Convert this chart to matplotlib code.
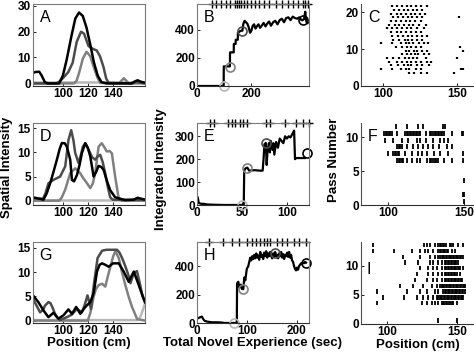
import numpy as np
import matplotlib
matplotlib.use('Agg')
import matplotlib.pyplot as plt

#%% colours used for the four passes (light -> black)
col_light = '#b8b8b8'
col_mid = '#808080'
col_dark = '#4c4c4c'
col_black = '#000000'

#%% Spatial intensity curves (panel A)
a_light_x = [76, 166]
a_light_y = [0.4, 0.4]
a_mid_x = [76, 109, 111, 113, 116, 119, 122, 125, 128, 130, 145, 147, 149, 151, 153, 166]
a_mid_y = [0, 0, 1.0, 4.0, 9.5, 12.2, 10.5, 6.0, 2.0, 0.2, 0, 1.0, 2.0, 1.0, 0, 0]
a_dark_x = [76, 95, 98, 101.7, 104.4, 107.9, 111.1, 114.6, 117, 120.6, 124.6, 127.2, 129.9, 132.6, 134.8, 136.7, 156, 159, 162, 166]
a_dark_y = [0, 0, 1.0, 2.9, 4.4, 8.0, 16.0, 19.9, 19.2, 14.4, 13.2, 12.7, 10.4, 6.4, 1.9, 0.2, 0, 0.6, 0.3, 0]
a_black_x = [76, 78, 81, 83, 85.5, 88, 97, 100, 103, 107, 110, 113, 116, 119, 122, 125, 128, 131, 135, 155, 158, 160, 163, 166]
a_black_y = [4.0, 4.4, 4.5, 3.0, 0.5, 0, 0, 3.0, 9.0, 18.5, 25.0, 27.3, 26.0, 21.5, 15.0, 8.0, 3.0, 0.5, 0, 0, 0.8, 1.2, 0.6, 0.3]

#%% panel D
d_light_x = [76, 166]
d_light_y = [0.1, 0.1]
d_mid_x = [76, 97, 99, 101.9, 105.9, 109.9, 113.9, 116.6, 119.4, 122, 124, 126, 128.7, 131.3, 133.5, 135.3, 137.5, 139.4, 142, 144.7, 147, 166]
d_mid_y = [0, 0, 0.6, 2.3, 5.7, 6.7, 5.7, 4.6, 3.6, 2.6, 3.5, 5.7, 11.2, 11.9, 11.0, 10.2, 10.3, 9.8, 5.0, 0.7, 0, 0]
d_dark_x = [76, 84, 86, 88.4, 92.4, 97.8, 101.9, 104.5, 106.7, 108.5, 109.9, 112.6, 114.5, 116.1, 118, 120.6, 123.5, 126, 128, 130, 132, 134, 136, 138, 140, 166]
d_dark_y = [0.5, 0.4, 1.5, 3.6, 4.3, 5.0, 7.1, 12.6, 14.6, 12.5, 9.9, 7.8, 9.5, 11.2, 11.9, 10.6, 9.0, 8.5, 9.2, 9.5, 8.0, 5.7, 3.0, 0.7, 0.2, 0.2]
d_black_x = [76, 84.4, 87, 89.8, 92.5, 95.2, 97.5, 99.2, 101.5, 103.2, 105.9, 107.3, 109, 111.3, 113.5, 115.3, 118, 120, 122, 124.7, 126.8, 128.7, 130.8, 132.7, 135.5, 138, 142, 150, 157, 160, 163, 166]
d_black_y = [0.7, 0.2, 1.5, 3.6, 6.0, 8.5, 10.8, 11.95, 11.9, 11.2, 8.5, 4.3, 4.0, 5.3, 7.5, 9.9, 11.9, 11.0, 9.2, 5.0, 6.0, 7.2, 7.0, 6.4, 4.0, 2.2, 0.7, 0.1, 0.2, 0.6, 0.4, 0.2]

#%% panel G
g_light_x = [76, 160, 162, 164, 166]
g_light_y = [0.1, 0.1, 0.6, 2.0, 3.5]
g_mid_x = [76, 120, 122, 124.7, 126.5, 128.7, 131.5, 134.1, 136, 138.2, 140.5, 142.2, 144.9, 147.5, 150.2, 153, 155.6, 159.7, 166]
g_mid_y = [0, 0, 1.5, 4.9, 6.5, 7.3, 7.6, 7.0, 9.0, 11.1, 13.3, 14.3, 12.9, 10.0, 7.3, 4.8, 2.8, 0.3, 0]
g_dark_x = [76, 78, 81.7, 84, 85.7, 88.4, 90, 91.5, 93.5, 95.2, 97.8, 103.2, 107, 111.3, 115.3, 117.5, 119.8, 122.6, 125.2, 127.9, 131.5, 135, 138.2, 141, 143.5, 145.5, 147.6, 150.2, 152.5, 154.3, 157, 159.5, 162, 164, 166]
g_dark_y = [4.5, 3.5, 1.7, 2.2, 3.1, 3.8, 3.6, 2.8, 1.5, 0.7, 0.1, 0.7, 1.2, 2.4, 1.7, 3.2, 5.2, 2.4, 8.0, 12.9, 14.4, 14.6, 14.6, 14.6, 14.6, 14.0, 12.9, 11.2, 9.5, 7.7, 9.8, 10.2, 7.5, 5.0, 3.8]
g_black_x = [76, 80.3, 84.4, 88.4, 92.4, 96.5, 100.5, 104.5, 107.3, 110.7, 114, 118, 122, 124.7, 127.4, 129.5, 131.5, 134.1, 136.8, 140.3, 144.9, 148.9, 152.9, 157, 161, 163.5, 166]
g_black_y = [5.2, 3.8, 2.1, 0.7, 1.6, 0.4, 1.1, 2.3, 1.4, 2.8, 1.4, 2.8, 3.8, 5.6, 10.1, 11.5, 11.8, 11.5, 11.1, 11.8, 11.8, 10.1, 8.0, 10.1, 7.3, 5.5, 3.8]

#%% integrated intensity vs total novel experience (panels B, E, H)
b_t = [0, 98, 98.5, 121, 121.5, 135, 135.5, 142, 142.5, 150, 150.5, 160, 167, 170, 175, 180, 185, 190, 195, 200, 205, 210, 215, 220, 226, 232, 238, 245, 252, 258, 265, 272, 280, 288, 296, 304, 312, 320, 328, 336, 344, 352, 360, 368, 376, 384, 389, 394, 398, 401, 403, 407]
b_y = [0, 0, 140, 140, 240, 240, 300, 300, 330, 330, 380, 393, 395, 440, 465, 455, 445, 420, 380, 395, 430, 440, 410, 425, 440, 415, 430, 450, 425, 445, 460, 430, 455, 465, 440, 470, 480, 455, 485, 490, 470, 495, 485, 480, 490, 470, 470, 480, 530, 470, 455, 450]
b_circ_t = [98, 123, 167, 389]
b_circ_y = [0, 138, 393, 471]
b_pass_t = [56, 71, 89, 107, 123, 138, 146, 154, 163, 173, 185, 197, 213, 228, 247, 265, 290, 312, 333, 352, 370, 389, 397, 407]

e_t = [0, 1, 2, 5, 8, 10, 12, 20, 30, 40, 47, 52, 52.5, 54, 56, 58, 64, 70, 73, 74, 75, 76.5, 77.5, 78.5, 80, 81, 82, 84, 85, 86, 88, 90, 92, 94, 96, 98, 100, 102, 104, 106, 108, 109, 110, 112, 116, 120]
e_y = [40, 30, 8, 5, 5, 3, 2, 1, 0, 0, 0, 0, 150, 160, 163, 150, 152, 150, 150, 200, 265, 271, 175, 240, 270, 230, 280, 240, 270, 220, 275, 250, 290, 280, 270, 300, 290, 300, 295, 310, 325, 200, 205, 205, 205, 205]
e_circ_t = [50.3, 56, 76.5, 122]
e_circ_y = [0, 163, 271, 225]
e_pass_t = [14.7, 19.1, 34.9, 38.6, 42.3, 47.8, 51.5, 55.9, 76.5, 81.7, 97.5, 110, 118.4, 125]

h_t = [0, 3, 6, 10, 12, 14, 16, 20, 30, 40, 50, 55, 60, 70, 75, 78, 80, 80.5, 83, 85, 88, 90, 93, 95, 97, 100, 103,
       105, 107, 109, 111, 113, 115, 117, 119, 121, 123, 125, 127, 129, 131, 133, 135, 137, 139, 141, 143, 145, 147,
       149, 151, 153, 155, 157, 159, 161, 163, 165, 167, 169, 171, 173, 175, 177, 179, 181, 183, 185, 187, 189, 191,
       193, 195, 197, 199, 201, 203, 205, 207, 209, 211, 213, 215, 217, 219]
h_y = [30, 35, 40, 45, 30, 20, 15, 10, 5, 5, 3, 0, 0, 0, 0, 0, 5, 280, 290, 250, 270, 240, 238, 320, 300, 380, 400,
       430, 460, 440, 470, 450, 480, 455, 490, 460, 475, 445, 500, 465, 480, 450, 495, 470, 505, 460, 490, 470, 500,
       475, 455, 490, 465, 500, 470, 480, 455, 490, 470, 500, 460, 485, 450, 480, 470, 495, 465, 500, 460, 480, 440,
       430, 400, 380, 370, 390, 375, 400, 410, 420, 415, 425, 420, 430, 425]
h_circ_t = [75, 93, 157, 219]
h_circ_y = [0, 238, 495, 422]
h_pass_t = [25, 53, 71, 85, 100, 110, 119, 127, 135, 141, 147, 161, 170, 180, 195, 205, 219]

#%% rasters: spike positions (cm) for each pass number
c_passes = [21, 20, 19, 18, 17, 16, 15, 14, 13, 12, 11, 10, 9, 8, 7, 6, 5, 4, 3]
c_spikes = [
    [106.3, 109.2, 113.0, 115.9, 118.6, 122.0, 125.3, 129.4],
    [107.4, 110.8, 114.1, 116.8, 120.5, 123.1, 126.5],
    [105.6, 109.2, 111.9, 115.2, 118.6, 121.6, 124.9, 128.0],
    [107.0, 110.1, 113.6, 116.8, 119.8, 123.1, 126.5, 151.2],
    [105.1, 108.6, 111.9, 115.2, 118.2, 121.3, 125.3],
    [104.0, 107.9, 111.0, 114.1, 117.5, 120.5, 124.2, 128.7],
    [102.9, 106.3, 109.6, 113.0, 116.4, 119.1, 123.1, 127.6],
    [105.1, 109.2, 112.3, 115.2, 118.6, 122.0, 125.3],
    [106.3, 110.1, 113.6, 116.8, 119.8, 123.1, 126.5, 129.8],
    [107.0, 110.8, 114.6, 116.8, 119.8, 123.1, 126.5],
    [98.8, 106.3, 111.9, 115.2, 117.5, 120.5, 124.2, 127.6, 130.3],
    [108.6, 113.0, 116.4, 118.6, 122.0, 125.3, 151.8],
    [115.2, 117.5, 120.9, 123.1, 126.5, 129.8, 154.1],
    [113.0, 115.9, 118.6, 121.3, 123.6, 127.6, 131.0],
    [102.5, 107.0, 110.8, 114.6, 117.5, 120.5, 123.1, 128.7, 150.0],
    [104.0, 109.2, 113.0, 115.9, 118.6, 122.0, 125.3, 129.4, 132.1],
    [105.1, 110.1, 114.1, 116.8, 119.1, 122.7, 126.5, 131.0],
    [98.4, 106.3, 111.9, 115.2, 117.5, 122.0, 125.3, 152.3, 154.1],
    [117.5, 120.9, 125.3, 129.4, 147.8],
]

f_passes = [11, 10, 9, 8, 7, 6, 3, 1, 0]
f_spikes = [
    [105.3, 112.7, 119.9, 123.2, 136.4, 137.5],
    [97.6, 98.6, 99.6, 100.6, 101.6, 102.4, 106.1, 111.2, 112.2, 113.2, 114.2, 115.2, 116.2, 117.2, 118.2,
     119.2, 120.2, 121.1, 125.0, 127.6, 128.6, 129.6, 130.6, 131.6, 132.6, 133.6, 134.6, 135.6, 136.6,
     141.9, 148.5, 149.6],
    [98.0, 103.1, 109.0, 113.4, 118.9, 121.1, 125.0, 129.8, 134.2, 136.9, 139.7],
    [106.1, 107.1, 108.1, 109.0, 112.7, 116.7, 119.9, 123.2, 126.5, 129.8, 133.8, 138.6, 141.9],
    [100.2, 103.5, 104.5, 105.5, 106.5, 107.5, 111.2, 115.6, 119.9, 122.1, 125.4, 130.3, 134.2, 139.7, 149.6],
    [106.1, 107.1, 108.1, 109.1, 110.1, 112.7, 115.6, 119.3, 121.1, 125.4, 127.6, 128.6, 129.6, 130.6, 131.6,
     133.1, 136.9, 141.9, 149.6],
    [150.0],
    [149.6, 150.2],
    [149.8],
]

i_passes = [13, 12, 11, 10, 9, 8, 7, 6, 5, 4, 3, 0]
i_spikes = [
    [90.5, 126.4, 128.8, 130.7, 134.2, 136.6, 137.6, 138.6, 139.6, 140.3, 142.0, 144.8, 145.8, 147.2, 150.7, 154.3],
    [90.5, 105.2, 117.7, 123.6, 127.1, 129.5, 133.0, 136.6, 137.6, 138.6, 139.6, 140.6, 141.6, 142.6, 143.7,
     146.0, 148.4],
    [111.3, 123.6, 130.7, 134.2, 136.6, 137.8, 138.8, 139.8, 140.8, 141.8, 142.8, 143.8, 144.8, 145.8, 146.8,
     147.8, 148.8, 149.8, 150.8, 151.8, 152.8, 153.8],
    [113.0, 122.4, 130.7, 133.0, 136.6, 138.9, 141.3, 142.3, 143.3, 144.3, 145.3, 146.3, 147.3, 148.3, 149.3, 150.3],
    [123.6, 129.5, 133.0, 135.4, 138.9, 141.3, 142.3, 143.3, 144.3, 145.3, 146.3, 147.3, 148.3, 149.3, 150.3,
     151.3, 151.9, 154.3],
    [121.2, 129.5, 133.0, 136.6, 138.9, 141.3, 142.3, 143.3, 144.3, 145.3, 146.3, 147.3, 148.3, 149.6, 151.9],
    [120.0, 128.3, 133.0, 135.4, 138.9, 141.3, 142.3, 143.3, 144.3, 145.3, 146.3, 147.3, 148.3, 149.3, 150.3,
     151.3, 152.3, 153.1],
    [109.4, 118.9, 125.9, 131.8, 135.4, 137.8, 138.8, 139.8, 140.8, 141.8, 142.8, 143.8, 144.8, 145.8, 146.8,
     147.8, 148.8, 149.8, 150.8, 151.8, 152.8, 153.8, 154.8, 155.5],
    [93.4, 114.6, 123.6, 128.3, 134.2, 136.6, 140.1, 141.1, 142.1, 143.1, 144.1, 145.1, 146.1, 147.1, 148.1,
     149.1, 150.1, 151.1, 152.1, 153.1, 154.1, 155.5],
    [97.2, 112.2, 121.7, 125.9, 129.5, 133.0, 135.4, 136.4, 137.4, 138.4, 139.4, 140.4, 141.4, 142.4, 143.4,
     144.4, 145.4, 146.4, 147.4, 148.4, 149.4, 150.4, 151.4, 152.4, 153.4, 154.3],
    [92.9, 124.7, 128.3, 131.8, 134.2, 136.6, 138.9, 139.9, 140.9, 141.9, 142.9, 143.9, 144.9, 145.9, 147.2, 149.6],
    [136.6, 150.0],
]

#%% figure setup
plt.rcParams['font.family'] = ['Liberation Sans', 'DejaVu Sans']
plt.rcParams['font.weight'] = 'bold'
plt.rcParams['axes.labelweight'] = 'bold'

W, H = 474, 356
fig = plt.figure(figsize=(W / 100, H / 100), dpi=100)

TICK_FS = 8.5
LAB_FS = 9.5
LET_FS = 11.5


def make_ax(left, top, right, bottom):
    # pixel box -> figure fraction
    return fig.add_axes([left / W, 1 - bottom / H, (right - left) / W, (bottom - top) / H])


def style_ax(ax, box=True):
    ax.tick_params(direction='in', length=2.5, width=0.6, labelsize=TICK_FS, pad=1.5)
    for lab in ax.get_xticklabels() + ax.get_yticklabels():
        lab.set_fontweight('bold')
    if box:
        for s in ['top', 'right', 'left']:
            ax.spines[s].set_color('#7a7a7a')
        ax.spines['bottom'].set_color('#303030')
    else:
        ax.spines['top'].set_visible(False)
        ax.spines['right'].set_visible(False)
        ax.spines['left'].set_color('#505050')
        ax.spines['bottom'].set_color('#303030')
        ax.tick_params(right=False, top=False)
    for s in ax.spines.values():
        s.set_linewidth(0.8)


def letter(ax, txt, x=0.06, y=0.93):
    ax.text(x, y, txt, transform=ax.transAxes, fontsize=LET_FS, fontweight='normal', va='top', ha='left')


rows = [(4, 86), (123, 205), (242, 323)]
cols = [(33, 145), (197, 308.5), (361, 474)]

#%% spatial intensity panels
spatial = [
    ([a_light_x, a_mid_x, a_dark_x, a_black_x], [a_light_y, a_mid_y, a_dark_y, a_black_y], (-1.0, 30.6), [0, 10, 20, 30], 'A'),
    ([d_light_x, d_mid_x, d_dark_x, d_black_x], [d_light_y, d_mid_y, d_dark_y, d_black_y], (-0.9, 16.1), [0, 5, 10, 15], 'D'),
    ([g_light_x, g_mid_x, g_dark_x, g_black_x], [g_light_y, g_mid_y, g_dark_y, g_black_y], (-0.5, 16.2), [0, 5, 10, 15], 'G'),
]
for r, (xs, ys, ylim, yt, lab) in enumerate(spatial):
    ax = make_ax(cols[0][0], rows[r][0], cols[0][1], rows[r][1])
    for xx, yy, cc in zip(xs, ys, [col_light, col_mid, col_dark, col_black]):
        ax.plot(xx, yy, color=cc, lw=1.8, solid_joinstyle='round')
    ax.set_xlim(76, 166)
    ax.set_ylim(*ylim)
    ax.set_xticks([100, 120, 140])
    ax.set_yticks(yt)
    style_ax(ax)
    letter(ax, lab)
    if r == 2:
        ax.set_xlabel('Position (cm)', fontsize=LAB_FS, labelpad=0)

#%% integrated intensity panels
integ = [
    (b_t, b_y, b_circ_t, b_circ_y, b_pass_t, (0, 410), (0, 585), [0, 200], [0, 200, 400], 'B'),
    (e_t, e_y, e_circ_t, e_circ_y, e_pass_t, (0, 124), (0, 358), [0, 50, 100], [0, 100, 200, 300], 'E'),
    (h_t, h_y, h_circ_t, h_circ_y, h_pass_t, (0, 224), (0, 570), [0, 100, 200], [0, 200, 400], 'H'),
]
for r, (tt, yy, ct, cy, pt, xl, yl, xt, yt, lab) in enumerate(integ):
    ax = make_ax(cols[1][0], rows[r][0], cols[1][1], rows[r][1])
    ax.plot(tt, yy, color='k', lw=1.6)
    for k, cc in enumerate([col_light, col_mid, col_dark, col_black]):
        ax.plot(ct[k], cy[k], 'o', mfc='none', mec=cc, ms=6.5, mew=1.2, clip_on=False)
    ax.plot(pt, [yl[1]] * len(pt), '+', color='k', ms=6, mew=1.0, clip_on=False)
    ax.set_xlim(*xl)
    ax.set_ylim(*yl)
    ax.set_xticks(xt)
    ax.set_yticks(yt)
    style_ax(ax)
    letter(ax, lab)
    if r == 2:
        ax.set_xlabel('Total Novel Experience (sec)', fontsize=LAB_FS, labelpad=0)

#%% raster panels
raster = [
    (c_passes, c_spikes, (85.2, 161.2), (0, 22.2), [0, 10, 20], 0.3, 0.85, 1.6, 'C'),
    (f_passes, f_spikes, (82.2, 156.6), (0, 12.1), [0, 5, 10], 0.2, 0.95, 1.3, 'F'),
    (i_passes, i_spikes, (81.8, 161.8), (0, 14.1), [0, 5, 10], 0.2, 0.95, 1.3, 'I'),
]
for r, (pp, ss, xl, yl, yt, lo, hi, lw, lab) in enumerate(raster):
    ax = make_ax(cols[2][0], rows[r][0], cols[2][1], rows[r][1] + (1 if r == 2 else 0))
    for p, sp in zip(pp, ss):
        ax.vlines(sp, p + lo, p + hi, color='k', lw=lw)
    ax.set_xlim(*xl)
    ax.set_ylim(*yl)
    ax.set_xticks([100, 150])
    ax.set_yticks(yt)
    style_ax(ax, box=False)
    if r == 2:
        letter(ax, lab, x=0.05, y=0.76)
        ax.set_xlabel('Position (cm)', fontsize=LAB_FS, labelpad=1)
    else:
        letter(ax, lab)

#%% shared y labels
fig.text(7 / W, 1 - 167 / H, 'Spatial Intensity', rotation=90, ha='center', va='center', fontsize=LAB_FS, fontweight='bold')
fig.text(161 / W, 1 - 169 / H, 'Integrated Intensity', rotation=90, ha='center', va='center', fontsize=LAB_FS, fontweight='bold')
fig.text(334 / W, 1 - 160 / H, 'Pass Number', rotation=90, ha='center', va='center', fontsize=LAB_FS, fontweight='bold')

fig.savefig('out.png', dpi=100)
